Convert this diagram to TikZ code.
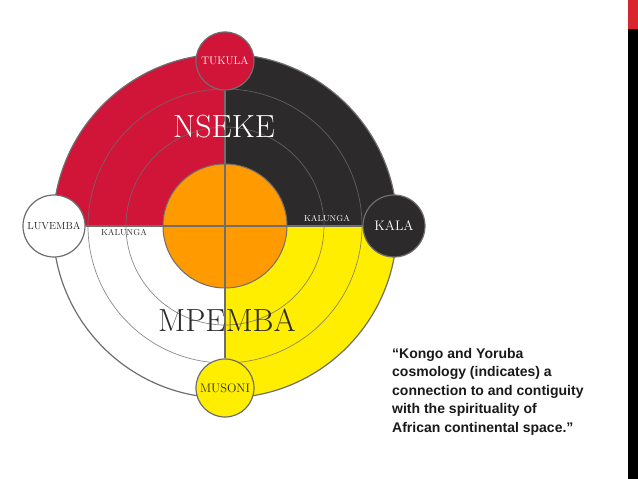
\documentclass[tikz,border=0pt]{standalone}
\usepackage{fontspec}
\newfontfamily\quotefont{Liberation Sans}
\usetikzlibrary{positioning,calc}
\usepackage{xcolor}
\definecolor{nsekered}{RGB}{208,21,56}
\definecolor{kaladark}{RGB}{44,42,43}
\definecolor{mpembayel}{RGB}{255,238,0}
\definecolor{huborange}{RGB}{255,154,0}
\definecolor{linegray}{RGB}{110,110,110}
\definecolor{barred}{RGB}{217,38,46}

\begin{document}
\begin{tikzpicture}[
  x=1pt, y=1pt,
  ring/.style={draw=linegray, line width=0.7pt, opacity=0.8},
  cross/.style={draw=linegray, line width=1.2pt},
  outer/.style={circle, draw=linegray, line width=1.2pt, inner sep=0pt, minimum size=58pt},
  wide/.style={outer, minimum size=62pt},
  big/.style={inner sep=0pt, font=\fontsize{32}{32}\selectfont},
  kal/.style={inner sep=0pt, font=\fontsize{8.6}{9}\selectfont},
]
\useasboundingbox (-225,-253) rectangle (413,226);

% four quarters
\fill[nsekered] (0,0) -- (90:172pt) arc[start angle=90, end angle=180, radius=172pt] -- cycle;
\fill[kaladark] (0,0) -- (0:172pt) arc[start angle=0, end angle=90, radius=172pt] -- cycle;
\fill[mpembayel] (0,0) -- (270:172pt) arc[start angle=270, end angle=360, radius=172pt] -- cycle;
\fill[white] (0,0) -- (180:172pt) arc[start angle=180, end angle=270, radius=172pt] -- cycle;

% rings and rim
\draw[ring] (0,0) circle[radius=99pt];
\draw[ring] (0,0) circle[radius=137pt];
\draw[linegray, line width=1.2pt] (0,0) circle[radius=172pt];

% centre disc
\node[circle, fill=huborange, draw=linegray, line width=1pt, minimum size=124pt, inner sep=0pt] (hub) at (0,0) {};

% four points
\node[outer, fill=nsekered, text=white, font=\fontsize{11}{11}\selectfont] (tukula) at (0,165) {TUKULA};
\node[outer, fill=mpembayel, text=kaladark, font=\fontsize{12.4}{12}\selectfont] (musoni) at (0,-162) {MUSONI};
\node[wide, fill=white, text=kaladark, font=\fontsize{10.3}{10}\selectfont] (luvemba) at (-171,0) {LUVEMBA};
\node[wide, fill=kaladark, text=white, font=\fontsize{13.8}{14}\selectfont] (kala) at (169,0) {KALA};

\draw[cross] (tukula) -- (musoni);
\draw[cross] (luvemba) -- (kala);

% names
\node[big, text=white] (nseke) at (-1,99) {NSEKE};
\node[big, text=kaladark] (mpemba) at (2,-94) {MPEMBA};
\node[kal, text=white] (kalR) at (102,7) {KALUNGA};
\node[kal, text=kaladark] (kalL) at (-101,-7) {KALUNGA};

% quote
\node[anchor=north west, align=left, inner sep=0pt, text=black!90,
  font=\quotefont\bfseries\fontsize{14}{18.5}\selectfont] (quote) at (167,-122)
  {“Kongo and Yoruba\\cosmology (indicates) a\\connection to and contiguity\\with the spirituality of\\African continental space.”};

% side bar
\fill[barred] (403,197) rectangle (413,226);
\fill[black] (403,-253) rectangle (413,197);
\end{tikzpicture}
\end{document}
